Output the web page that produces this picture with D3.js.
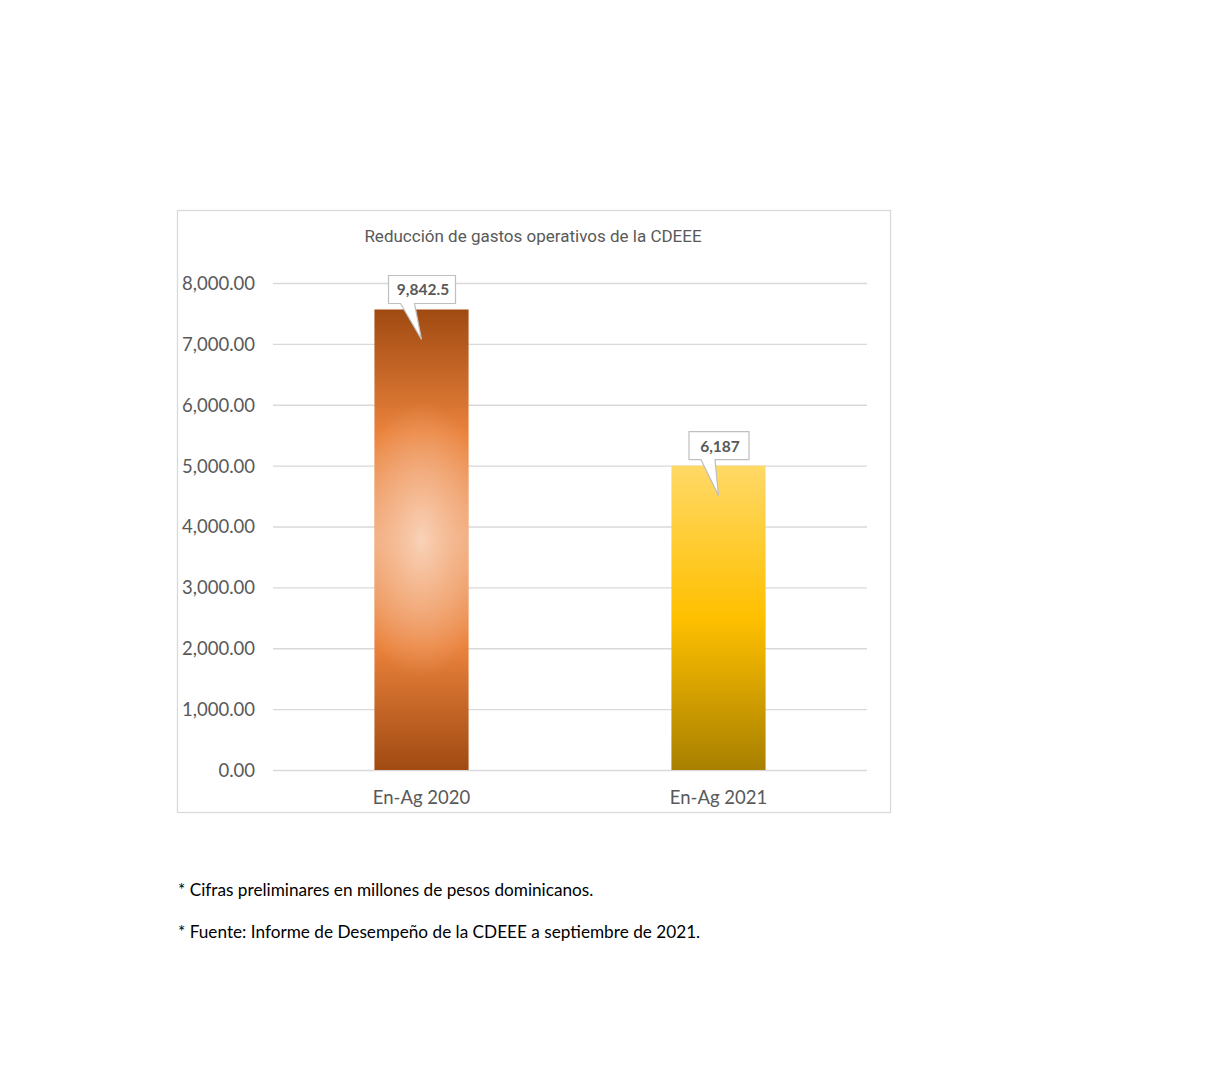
<!DOCTYPE html>
<html>
<head>
<meta charset="utf-8">
<script src="https://cdn.jsdelivr.net/npm/d3@7"></script>
<style>
  html, body { margin: 0; padding: 0; background: #fff; }
  svg { display: block; }
</style>
</head>
<body>
<svg id="chart" width="1227" height="1067"></svg>
<script>
// ---- data ----
const categories = ["En-Ag 2020", "En-Ag 2021"];
const barValues = [7565, 5000];              // bar heights as drawn on the axis
const labelTexts = ["9,842.5", "6,187"];     // callout labels as printed
const yTicks = [0, 1000, 2000, 3000, 4000, 5000, 6000, 7000, 8000];
const title = "Reducción de gastos operativos de la CDEEE";
const notes = [
  "* Cifras preliminares en millones de pesos dominicanos.",
  "* Fuente: Informe de Desempeño de la CDEEE a septiembre de 2021."
];

const svg = d3.select("#chart");
const frame = {x: 177, y: 210, w: 713, h: 602};
const plot = {left: 273, right: 867, top: 283, bottom: 770};

svg.append("rect")
  .attr("x", frame.x + 0.5).attr("y", frame.y + 0.5)
  .attr("width", frame.w).attr("height", frame.h)
  .attr("fill", "#fff").attr("stroke", "#d9d9d9").attr("stroke-width", 1.3);

// gradients
const defs = svg.append("defs");
const g1 = defs.append("linearGradient").attr("id", "grad0").attr("x1", 0).attr("y1", 0).attr("x2", 0).attr("y2", 1);
[[0, "#A04A12"], [0.27, "#EA823C"], [0.5, "#F0AA7C"], [0.73, "#EA823C"], [1, "#A04A12"]]
  .forEach(([o, c]) => g1.append("stop").attr("offset", o).attr("stop-color", c));
const r1 = defs.append("radialGradient").attr("id", "glow0").attr("cx", 0.5).attr("cy", 0.5).attr("r", 0.5);
[[0, "#F9D2B8", 1], [0.5, "#F6BE98", 0.6], [1, "#F4B890", 0]]
  .forEach(([o, c, a]) => r1.append("stop").attr("offset", o).attr("stop-color", c).attr("stop-opacity", a));
const g2 = defs.append("linearGradient").attr("id", "grad1").attr("x1", 0).attr("y1", 0).attr("x2", 0).attr("y2", 1);
[[0, "#FFD966"], [0.5, "#FFC000"], [1, "#A88000"]]
  .forEach(([o, c]) => g2.append("stop").attr("offset", o).attr("stop-color", c));

// scales
const x = d3.scaleBand().domain(categories).range([plot.left, plot.right])
  .paddingInner(0.683).paddingOuter(0.3415);
const y = d3.scaleLinear().domain([0, 8000]).range([plot.bottom, plot.top]);

// grid
svg.append("g").selectAll("line").data(yTicks).join("line")
  .attr("x1", plot.left).attr("x2", plot.right)
  .attr("y1", d => y(d) + 0.5).attr("y2", d => y(d) + 0.5)
  .attr("stroke", "#d9d9d9").attr("stroke-width", 1.3);

// y axis labels
const yAxis = d3.axisLeft(y).tickValues(yTicks).tickSize(0).tickPadding(0)
  .tickFormat(d3.format(",.2f"));
const ya = svg.append("g").attr("transform", `translate(255,0)`).call(yAxis);
ya.select(".domain").remove();
ya.selectAll("text").attr("font-family", "Lato, 'Open Sans', sans-serif")
  .attr("font-size", 18.5).attr("fill", "#595959").attr("dy", "0.35em");

// bars
const bars = svg.append("g");
categories.forEach((c, i) => {
  bars.append("rect")
    .attr("x", x(c)).attr("y", y(barValues[i]))
    .attr("width", x.bandwidth()).attr("height", y(0) - y(barValues[i]))
    .attr("fill", `url(#grad${i})`);
});
defs.append("clipPath").attr("id", "clip0").append("rect")
  .attr("x", x(categories[0])).attr("y", y(barValues[0]))
  .attr("width", x.bandwidth()).attr("height", y(0) - y(barValues[0]));
const h0 = y(0) - y(barValues[0]);
bars.append("rect")
  .attr("x", x(categories[0]) - 25).attr("y", y(barValues[0]) + h0 * 0.2)
  .attr("width", x.bandwidth() + 50).attr("height", h0 * 0.6)
  .attr("fill", "url(#glow0)")
  .attr("clip-path", "url(#clip0)");

// x axis labels
const xAxis = d3.axisBottom(x).tickSize(0).tickPadding(0);
const xa = svg.append("g").attr("transform", `translate(0,${plot.bottom})`).call(xAxis);
xa.select(".domain").remove();
xa.selectAll("text").attr("font-family", "Lato, 'Open Sans', sans-serif")
  .attr("font-size", 18.5).attr("fill", "#595959").attr("dy", "1.85em");

// callouts
const boxW = [67, 60];
categories.forEach((c, i) => {
  const cx = x(c) + x.bandwidth() / 2;
  const top = y(barValues[i]);
  const bw = boxW[i], bh = 28;
  const bx = cx - bw / 2 + 0.5, by = top - 6 - bh;
  const baseL = bx + 12, baseR = bx + 26;
  const tipX = cx, tipY = top + 30;
  const p = d3.path();
  p.moveTo(bx, by); p.lineTo(bx + bw, by); p.lineTo(bx + bw, by + bh);
  p.lineTo(baseR, by + bh); p.lineTo(tipX, tipY); p.lineTo(baseL, by + bh);
  p.lineTo(bx, by + bh); p.closePath();
  svg.append("path").attr("d", p.toString())
    .attr("fill", "#fff").attr("stroke", "#bfbfbf").attr("stroke-width", 1.2);
  svg.append("text").attr("x", bx + bw / 2 + 1).attr("y", by + bh / 2 + 6)
    .attr("text-anchor", "middle")
    .attr("font-family", "Lato, 'Open Sans', sans-serif").attr("font-weight", "bold")
    .attr("font-size", 15.5).attr("fill", "#595959").text(labelTexts[i]);
});

// title
svg.append("text").attr("x", 533).attr("y", 242).attr("text-anchor", "middle")
  .attr("font-family", "Roboto, 'Noto Sans', sans-serif").attr("font-size", 17)
  .attr("fill", "#595959").text(title);

// notes
svg.append("g").selectAll("text").data(notes).join("text")
  .attr("x", 178).attr("y", (d, i) => 896 + i * 42)
  .attr("font-family", "Lato, 'Open Sans', sans-serif").attr("font-size", 17.2)
  .attr("fill", "#000").text(d => d);
</script>
</body>
</html>
